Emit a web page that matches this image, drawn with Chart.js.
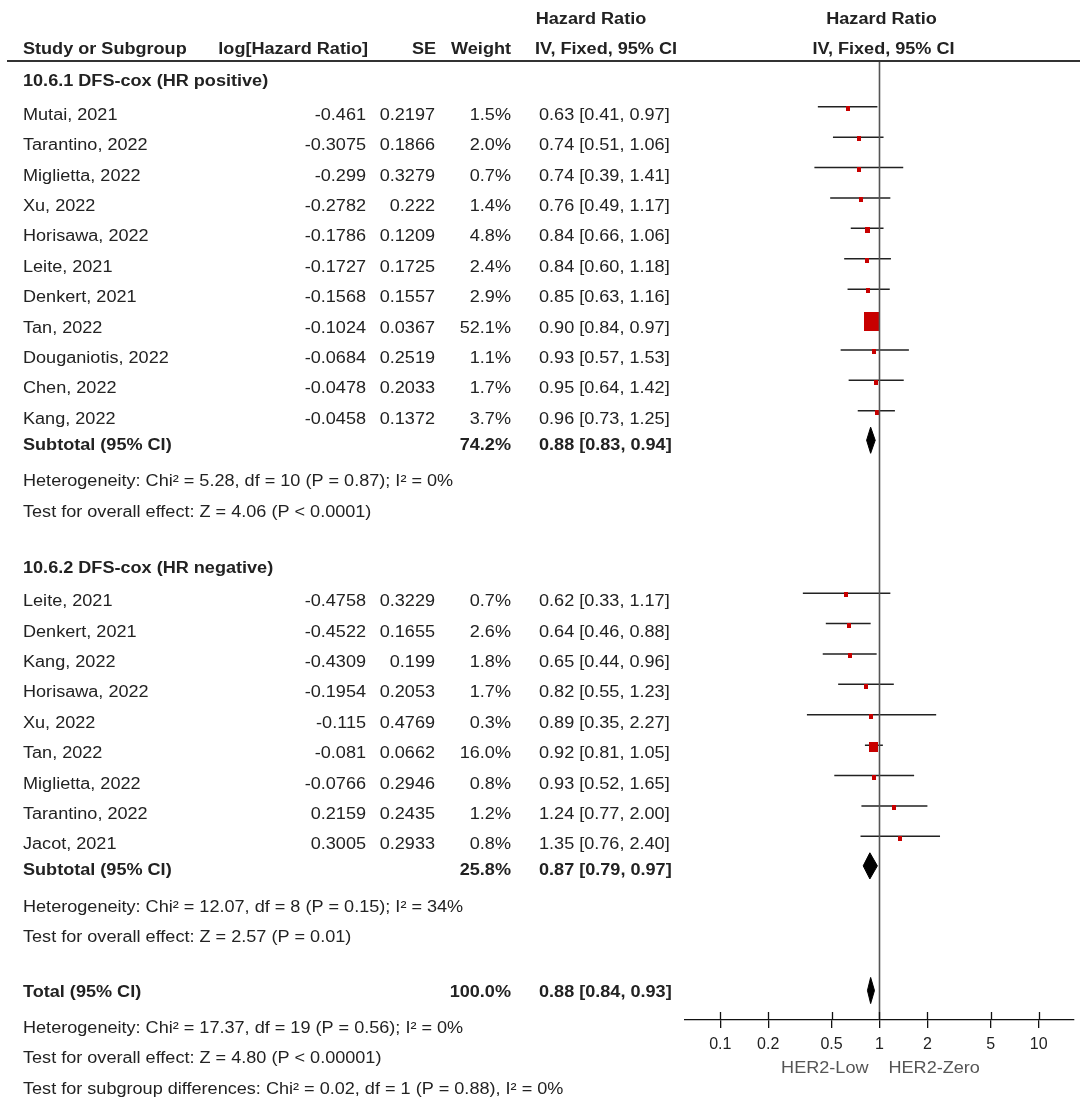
<!DOCTYPE html>
<html>
<head>
<meta charset="utf-8">
<script src="https://cdn.jsdelivr.net/npm/chart.js@4.4.1/dist/chart.umd.min.js"></script>
<style>
  html, body { margin: 0; padding: 0; background: #fff; }
  #wrap { width: 1080px; height: 1108px; position: relative; }
</style>
</head>
<body>
<div id="wrap"><canvas id="forest"></canvas></div>
<script>
// ==========================================
// DADOS — subgrupo 10.6.1 (HR positive)
// ==========================================
const group1Title = "10.6.1 DFS-cox (HR positive)";
const group1Studies = ["Mutai, 2021", "Tarantino, 2022", "Miglietta, 2022", "Xu, 2022", "Horisawa, 2022",
  "Leite, 2021", "Denkert, 2021", "Tan, 2022", "Douganiotis, 2022", "Chen, 2022", "Kang, 2022"];
const group1LogHR = [-0.461, -0.3075, -0.299, -0.2782, -0.1786, -0.1727, -0.1568, -0.1024, -0.0684, -0.0478, -0.0458];
const group1SE = [0.2197, 0.1866, 0.3279, 0.222, 0.1209, 0.1725, 0.1557, 0.0367, 0.2519, 0.2033, 0.1372];
const group1Weight = [1.5, 2.0, 0.7, 1.4, 4.8, 2.4, 2.9, 52.1, 1.1, 1.7, 3.7];
const group1HR = [0.63, 0.74, 0.74, 0.76, 0.84, 0.84, 0.85, 0.90, 0.93, 0.95, 0.96];
const group1Low = [0.41, 0.51, 0.39, 0.49, 0.66, 0.60, 0.63, 0.84, 0.57, 0.64, 0.73];
const group1High = [0.97, 1.06, 1.41, 1.17, 1.06, 1.18, 1.16, 0.97, 1.53, 1.42, 1.25];
const group1Subtotal = [74.2, 0.88, 0.83, 0.94]; // peso, HR, inferior, superior
const group1Notes = ["Heterogeneity: Chi² = 5.28, df = 10 (P = 0.87); I² = 0%",
  "Test for overall effect: Z = 4.06 (P < 0.0001)"];

// ==========================================
// DADOS — subgrupo 10.6.2 (HR negative)
// ==========================================
const group2Title = "10.6.2 DFS-cox (HR negative)";
const group2Studies = ["Leite, 2021", "Denkert, 2021", "Kang, 2022", "Horisawa, 2022", "Xu, 2022",
  "Tan, 2022", "Miglietta, 2022", "Tarantino, 2022", "Jacot, 2021"];
const group2LogHR = [-0.4758, -0.4522, -0.4309, -0.1954, -0.115, -0.081, -0.0766, 0.2159, 0.3005];
const group2SE = [0.3229, 0.1655, 0.199, 0.2053, 0.4769, 0.0662, 0.2946, 0.2435, 0.2933];
const group2Weight = [0.7, 2.6, 1.8, 1.7, 0.3, 16.0, 0.8, 1.2, 0.8];
const group2HR = [0.62, 0.64, 0.65, 0.82, 0.89, 0.92, 0.93, 1.24, 1.35];
const group2Low = [0.33, 0.46, 0.44, 0.55, 0.35, 0.81, 0.52, 0.77, 0.76];
const group2High = [1.17, 0.88, 0.96, 1.23, 2.27, 1.05, 1.65, 2.00, 2.40];
const group2Subtotal = [25.8, 0.87, 0.79, 0.97];
const group2Notes = ["Heterogeneity: Chi² = 12.07, df = 8 (P = 0.15); I² = 34%",
  "Test for overall effect: Z = 2.57 (P = 0.01)"];

// ==========================================
// TOTAL + EIXO
// ==========================================
const totalValues = [100.0, 0.88, 0.84, 0.93];
const totalNotes = ["Heterogeneity: Chi² = 17.37, df = 19 (P = 0.56); I² = 0%",
  "Test for overall effect: Z = 4.80 (P < 0.00001)",
  "Test for subgroup differences: Chi² = 0.02, df = 1 (P = 0.88), I² = 0%"];
const tickValues = [0.1, 0.2, 0.5, 1, 2, 5, 10];
const directionLabels = ["HER2-Low", "HER2-Zero"];

// ==========================================
// LAYOUT (linhas da tabela)
// ==========================================
const Y_MIN = -0.724, Y_MAX = 30.82;   // linha do cabeçalho .. eixo x
const LINE_SHIFT = -0.22;  // RevMan desenha o IC um pouco acima do texto
const BOX_SHIFT = -0.16;
const DIAMOND_SHIFT = -0.15;
const DIAMOND_HALF = 0.43;
const FONT = '"Liberation Sans", Arial, Helvetica, sans-serif';
const TEXT_SX = 1.13;   // o texto original é um pouco mais largo que o Arial
const TEXT_DY = 2;
const COL = { name: 23, logHR: 366, se: 435, weight: 511, ci: 539 };

const rows = [];
const studies = [];
const diamonds = [];
let r = 0;

function fmtCI(hr, lo, hi) {
  return hr.toFixed(2) + " [" + lo.toFixed(2) + ", " + hi.toFixed(2) + "]";
}

function addGroup(title, names, logs, ses, weights, hrs, lows, highs, sub, notes) {
  rows.push({ row: r++ - 0.1, kind: "group", text: title });
  names.forEach((n, i) => {
    rows.push({ row: r, kind: "study", text: n, log: String(logs[i]), se: String(ses[i]),
      weight: weights[i].toFixed(1) + "%", ci: fmtCI(hrs[i], lows[i], highs[i]) });
    studies.push({ row: r, hr: hrs[i], lo: lows[i], hi: highs[i], w: weights[i] });
    r++;
  });
  rows.push({ row: r - 0.15, kind: "subtotal", text: "Subtotal (95% CI)", weight: sub[0].toFixed(1) + "%",
    ci: fmtCI(sub[1], sub[2], sub[3]) });
  diamonds.push({ row: r - 0.1, hr: sub[1], lo: sub[2], hi: sub[3] });
  r++;
  notes.forEach(t => rows.push({ row: r++ + 0.05, kind: "note", text: t }));
  r++; // linha vazia
}

addGroup(group1Title, group1Studies, group1LogHR, group1SE, group1Weight, group1HR, group1Low, group1High,
  group1Subtotal, group1Notes);
addGroup(group2Title, group2Studies, group2LogHR, group2SE, group2Weight, group2HR, group2Low, group2High,
  group2Subtotal, group2Notes);
rows.push({ row: r - 0.15, kind: "subtotal", text: "Total (95% CI)", weight: totalValues[0].toFixed(1) + "%",
  ci: fmtCI(totalValues[1], totalValues[2], totalValues[3]) });
diamonds.push({ row: r, hr: totalValues[1], lo: totalValues[2], hi: totalValues[3] });
r++;
totalNotes.forEach(t => rows.push({ row: r++ + 0.03, kind: "note", text: t }));

// ==========================================
// DATASETS
// ==========================================
// segmentos dos IC separados por pontos vazios
const ciPoints = [];
studies.forEach(s => {
  ciPoints.push({ x: s.lo, y: s.row + LINE_SHIFT }, { x: s.hi, y: s.row + LINE_SHIFT }, { x: null, y: null });
});

// quadrados: lado proporcional à raiz do peso (um pouco mais altos que largos, como no original)
function makeBox(w) {
  const side = Math.max(3.8, 15.5 * Math.sqrt(w / 52.1));
  const c = document.createElement("canvas");
  c.width = Math.round(side);
  c.height = Math.round(side * 1.2);
  const g = c.getContext("2d");
  g.fillStyle = "#c80000";
  g.fillRect(0, 0, c.width, c.height);
  return c;
}
const boxImages = studies.map(s => makeBox(s.w));

const datasets = [
  {
    label: "ref", data: [{ x: 1, y: Y_MIN }, { x: 1, y: Y_MAX }], showLine: true,
    borderColor: "#555", borderWidth: 1.6, pointRadius: 0, order: 0
  },
  {
    label: "boxes", data: studies.map(s => ({ x: s.hr, y: s.row + BOX_SHIFT })),
    pointStyle: (c) => boxImages[c.dataIndex], pointRadius: 5, order: 1
  },
  {
    label: "ci", data: ciPoints, showLine: true, spanGaps: false,
    borderColor: "#222", borderWidth: 1.5, pointRadius: 0, order: 3
  }
];
diamonds.forEach(d => {
  const c = d.row + DIAMOND_SHIFT;
  datasets.push({
    label: "diamond", showLine: true, fill: "shape",
    data: [{ x: d.lo, y: c }, { x: d.hr, y: c - DIAMOND_HALF }, { x: d.hi, y: c },
      { x: d.hr, y: c + DIAMOND_HALF }, { x: d.lo, y: c }],
    borderColor: "#000", backgroundColor: "#000", borderWidth: 1, pointRadius: 0, tension: 0, order: 1
  });
});

// ==========================================
// TEXTO DA TABELA (plugin)
// ==========================================
function put(ctx, text, x, y, align, bold, color) {
  ctx.save();
  ctx.font = (bold ? "bold " : "") + "16px " + FONT;
  ctx.fillStyle = color || "#222";
  ctx.textAlign = align;
  ctx.textBaseline = "middle";
  ctx.translate(x, y + TEXT_DY);
  ctx.scale(TEXT_SX, 1);
  ctx.fillText(text, 0, 0);
  ctx.restore();
}

const tablePlugin = {
  id: "forestTable",
  afterDraw(chart) {
    const ctx = chart.ctx;
    const ys = chart.scales.y, xs = chart.scales.x;
    const area = chart.chartArea;
    const x1 = xs.getPixelForValue(1);

    // cabeçalho
    const h1 = ys.getPixelForValue(-2.15), h2 = ys.getPixelForValue(-1.15);
    put(ctx, "Hazard Ratio", 591, h1, "center", true);
    put(ctx, "Hazard Ratio", x1 + 2, h1, "center", true);
    put(ctx, "Study or Subgroup", COL.name, h2, "left", true);
    put(ctx, "log[Hazard Ratio]", 368, h2, "right", true);
    put(ctx, "SE", 436, h2, "right", true);
    put(ctx, "Weight", COL.weight, h2, "right", true);
    put(ctx, "IV, Fixed, 95% CI", 606, h2, "center", true);
    put(ctx, "IV, Fixed, 95% CI", x1 + 4, h2, "center", true);

    ctx.save();
    ctx.strokeStyle = "#333";
    ctx.lineWidth = 2;
    ctx.beginPath();
    ctx.moveTo(7, area.top);
    ctx.lineTo(1080, area.top);
    ctx.stroke();

    // metade superior das marcas do eixo
    ctx.strokeStyle = "#111";
    ctx.lineWidth = 1.3;
    ctx.beginPath();
    tickValues.forEach(v => {
      const px = Math.round(xs.getPixelForValue(v)) + 0.5;
      ctx.moveTo(px, area.bottom - 8);
      ctx.lineTo(px, area.bottom);
    });
    ctx.stroke();
    ctx.restore();

    rows.forEach(row => {
      const y = ys.getPixelForValue(row.row);
      if (row.kind === "group") {
        put(ctx, row.text, COL.name, y, "left", true);
      } else if (row.kind === "study") {
        put(ctx, row.text, COL.name, y, "left", false);
        put(ctx, row.log, COL.logHR, y, "right", false);
        put(ctx, row.se, COL.se, y, "right", false);
        put(ctx, row.weight, COL.weight, y, "right", false);
        put(ctx, row.ci, COL.ci, y, "left", false);
      } else if (row.kind === "subtotal") {
        put(ctx, row.text, COL.name, y, "left", true);
        put(ctx, row.weight, COL.weight, y, "right", true);
        put(ctx, row.ci, COL.ci, y, "left", true);
      } else {
        put(ctx, row.text, COL.name, y, "left", false);
      }
    });

    // rótulos de direção
    const yl = area.bottom + 47;
    put(ctx, directionLabels[0], x1 - 11, yl, "right", false, "#555");
    put(ctx, directionLabels[1], x1 + 9, yl, "left", false, "#555");
  }
};

// ==========================================
// GRÁFICO
// ==========================================
new Chart(document.getElementById("forest"), {
  type: "scatter",
  data: { datasets: datasets },
  options: {
    responsive: true,
    maintainAspectRatio: false,
    animation: false,
    events: [],
    layout: { padding: { left: 685, right: 5, top: 61, bottom: 58 } },
    plugins: { legend: { display: false }, tooltip: { enabled: false } },
    scales: {
      x: {
        type: "logarithmic",
        min: 0.06,
        max: 16.67,
        afterBuildTicks: (s) => { s.ticks = tickValues.map(v => ({ value: v })); },
        afterFit: (s) => { s.height = 30; },
        ticks: {
          autoSkip: false, maxRotation: 0, padding: 7, color: "#222",
          font: { size: 16, family: FONT },
          callback: (v) => String(v)
        },
        grid: { drawOnChartArea: false, drawTicks: true, tickLength: 8, color: "#111", lineWidth: 1.3 },
        border: { display: true, color: "#111", width: 1.3 }
      },
      y: { type: "linear", reverse: true, min: Y_MIN, max: Y_MAX, display: false }
    }
  },
  plugins: [tablePlugin]
});
</script>
</body>
</html>
